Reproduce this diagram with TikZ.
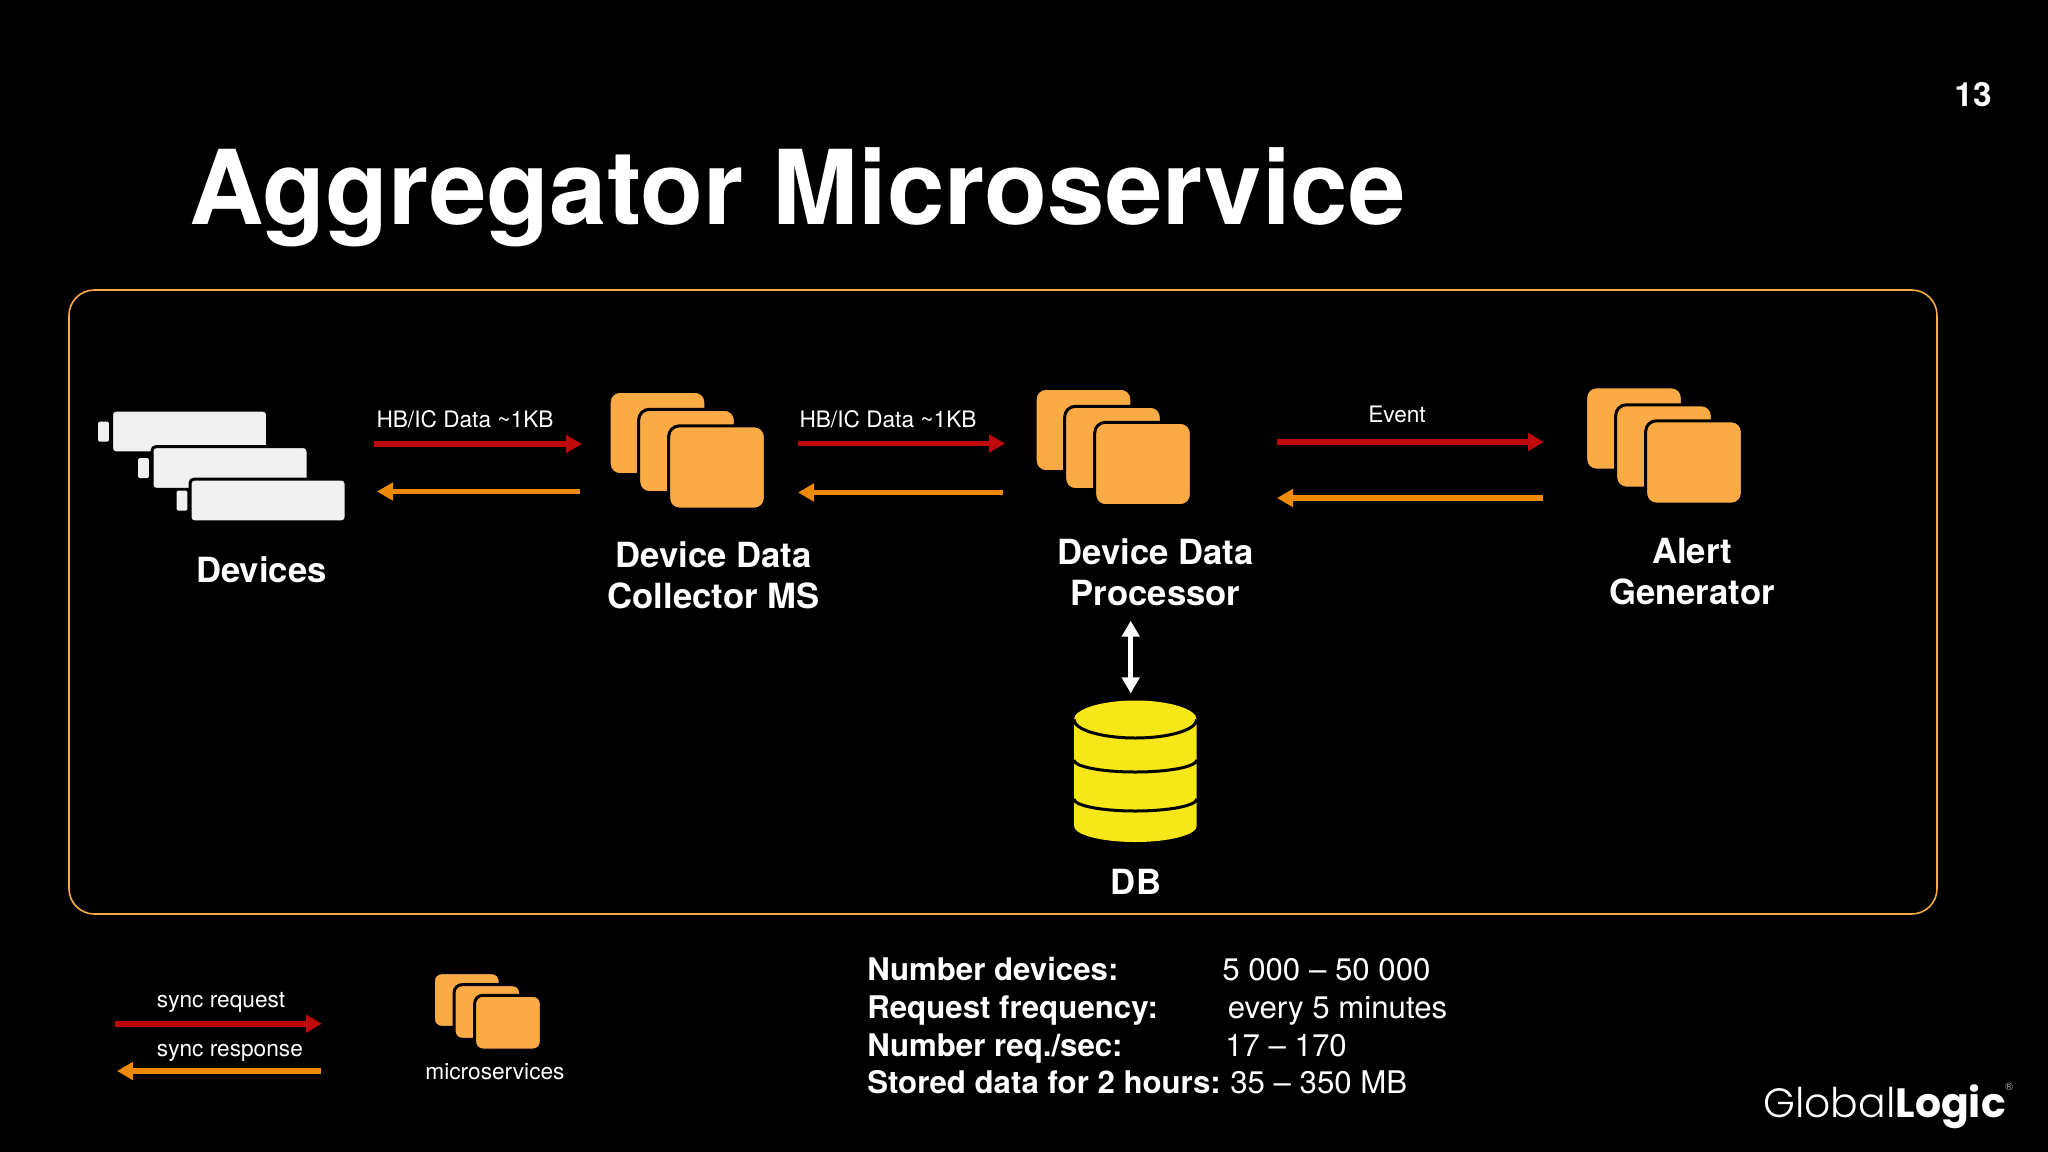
\documentclass[tikz,border=0pt]{standalone}
\usepackage{fontspec}
\setmainfont{TeX Gyre Heros}
\newfontfamily\logolight{Poppins Light}
\newfontfamily\logobold{Poppins}[BoldFont={Poppins Bold}]
\usepackage{xcolor}
\usetikzlibrary{arrows.meta}
\definecolor{svcorange}{HTML}{FBAB45}
\definecolor{reqred}{HTML}{BE0A0A}
\definecolor{resporange}{HTML}{EE8A0A}
\definecolor{dbyellow}{HTML}{F7E618}
\definecolor{devgrey}{HTML}{F0F0F0}
\tikzset{
  svcbox/.style={draw=black,line width=2.25pt,fill=svcorange,rounded corners=8pt,minimum width=72.5pt,minimum height=62.5pt,inner sep=0pt},
  minibox/.style={svcbox,rounded corners=6pt,minimum width=50pt,minimum height=41pt},
  devbox/.style={draw=black,line width=2.25pt,fill=devgrey,rounded corners=3pt,minimum width=117pt,minimum height=32pt,inner sep=0pt},
  devtab/.style={fill=devgrey,rounded corners=1pt,minimum width=8pt,minimum height=15pt,inner sep=0pt},
  reqarrow/.style={draw=reqred,line width=4.2pt,-{Triangle[length=12pt,width=13pt]}},
  resparrow/.style={draw=resporange,line width=4.2pt,-{Triangle[length=12pt,width=13pt]}},
  dbarrow/.style={draw=white,line width=3.6pt,{Triangle[length=12pt,width=13pt]}-{Triangle[length=12pt,width=13pt]}},
  headlabel/.style={text=white,inner sep=0pt,align=center,font=\fontsize{26}{30.75}\selectfont\bfseries},
  smalllabel/.style={text=white,inner sep=0pt,font=\fontsize{17}{20}\selectfont},
  statlabel/.style={text=white,inner sep=0pt,anchor=base west,font=\fontsize{23.4}{28}\selectfont},
}

\begin{document}
\begin{tikzpicture}[x=0.75pt,y=0.75pt,yscale=-1,xscale=1]

%Shape: Background
\fill [black] (0,0) rectangle (2048,1152);
%Shape: Frame
\draw [svcorange,line width=1.2pt,rounded corners=19pt] (69,290) rectangle (1937,914);

% Text Node
\node (title) [text=white,inner sep=0pt,anchor=base west,font=\fontsize{77.4}{90}\selectfont\bfseries] at (189,224) {Aggregator Microservice};
\node (pagenum) [text=white,inner sep=0pt,font=\fontsize{25}{28}\selectfont\bfseries] at (1973,95) {13};

%Shape: Devices
\node (tabA) [devtab] at (103.5,431.7) {};
\node (devA) [devbox] at (189.5,431.5) {};
\node (tabB) [devtab] at (143.5,468) {};
\node (devB) [devbox] at (230,468) {};
\node (tabC) [devtab] at (182,500.7) {};
\node (devC) [devbox] at (268,500.5) {};

%Shape: Collector
\node (collA) [svcbox] at (657.5,433) {};
\node (collB) [svcbox] at (687,451) {};
\node (collC) [svcbox] at (717,467.5) {};
%Shape: Processor
\node (procA) [svcbox] at (1083.5,430) {};
\node (procB) [svcbox] at (1113,448) {};
\node (procC) [svcbox] at (1143,464) {};
%Shape: Alert
\node (alertA) [svcbox] at (1634,428.5) {};
\node (alertB) [svcbox] at (1664,446.5) {};
\node (alertC) [svcbox] at (1694,462.5) {};

%Shape: Database
\fill [dbyellow] (1074,719.5) arc (180:360:61.35 and 19) -- (1196.7,826) arc (0:180:61.35 and 16) -- cycle;
\draw [black,line width=2.25pt] (1074,719.5) arc (180:0:61.35 and 18.5);
\draw [black,line width=2.25pt] (1074,760) arc (180:0:61.35 and 12);
\draw [black,line width=2.25pt] (1074,799) arc (180:0:61.35 and 12);

%Shape: Legend icon
\node (miniA) [minibox] at (466.8,1000) {};
\node (miniB) [minibox] at (487.4,1012) {};
\node (miniC) [minibox] at (508,1022.7) {};

%Straight Lines
\coordinate (reqAs) at (374,444);
\coordinate (reqAe) at (582,444);
\coordinate (respAs) at (580,491.5);
\coordinate (respAe) at (377,491.5);
\coordinate (reqBs) at (798,443.5);
\coordinate (reqBe) at (1005,443.5);
\coordinate (respBs) at (1003,492.5);
\coordinate (respBe) at (798,492.5);
\coordinate (reqCs) at (1277,442);
\coordinate (reqCe) at (1544,442);
\coordinate (respCs) at (1543,498);
\coordinate (respCe) at (1277,498);
\coordinate (dbTop) at (1130.7,620.7);
\coordinate (dbBot) at (1130.7,693.3);
\coordinate (legReqs) at (114.7,1023.7);
\coordinate (legReqe) at (322,1023.7);
\coordinate (legResps) at (320.7,1071);
\coordinate (legRespe) at (117,1071);
\draw [reqarrow] (reqAs) -- (reqAe);
\draw [resparrow] (respAs) -- (respAe);
\draw [reqarrow] (reqBs) -- (reqBe);
\draw [resparrow] (respBs) -- (respBe);
\draw [reqarrow] (reqCs) -- (reqCe);
\draw [resparrow] (respCs) -- (respCe);
\draw [dbarrow] (dbTop) -- (dbBot);
\draw [reqarrow] (legReqs) -- (legReqe);
\draw [resparrow] (legResps) -- (legRespe);

% Text Node
\node (devLabel) [headlabel] at (261.5,569.5) {Devices};
\node (collLabel) [headlabel] at (713.5,575.5) {Device Data\\Collector MS};
\node (procLabel) [headlabel] at (1155.5,572.5) {Device Data\\Processor};
\node (alertLabel) [headlabel] at (1692,571.5) {Alert\\Generator};
\node (dbLabel) [headlabel] at (1136,881.7) {DB};
\node (dataA) [smalllabel] at (465,419) {HB/IC Data \textasciitilde1KB};
\node (dataB) [smalllabel] at (888,419) {HB/IC Data \textasciitilde1KB};
\node (eventLabel) [smalllabel] at (1397,414) {Event};
\node (legReq) [smalllabel,anchor=west] at (156.7,1002.5) {sync request};
\node (legResp) [smalllabel,anchor=west] at (156.7,1052.5) {sync response};
\node (legMicro) [smalllabel] at (495,1071.7) {microservices};

% Text Node
\node (statA) [statlabel] at (867,980) {\bfseries Number devices:};
\node (statB) [statlabel] at (867,1018) {\bfseries Request frequency:};
\node (statC) [statlabel] at (867,1056) {\bfseries Number req./sec:};
\node (statD) [statlabel] at (867,1093) {\bfseries Stored data for 2 hours:};
\node (valA) [statlabel] at (1222,980) {5 000 -- 50 000};
\node (valB) [statlabel] at (1227.5,1018) {every 5 minutes};
\node (valC) [statlabel] at (1225,1056) {17 -- 170};
\node (valD) [statlabel] at (1230,1093) {35 -- 350 MB};

% Text Node
\node (logo) [text=white,inner sep=0pt,anchor=base west,font=\fontsize{30.7}{34}\selectfont] at (1763,1117) {{\logolight Global}{\logobold\bfseries Logic}};
\node (logoMark) [text=white!70!black,inner sep=0pt,font=\fontsize{8}{9}\selectfont] at (2009,1087) {\textregistered};

\end{tikzpicture}
\end{document}
